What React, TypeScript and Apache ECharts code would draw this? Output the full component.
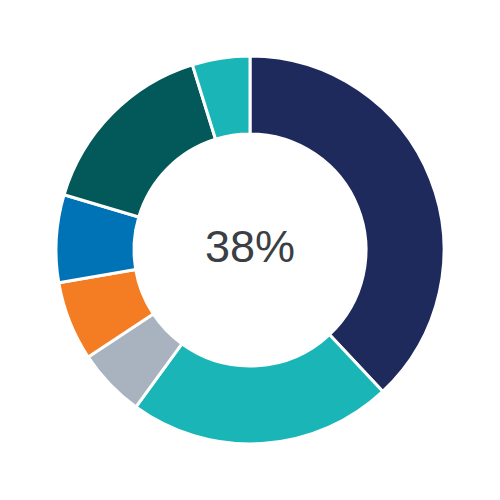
import { useEffect, useRef } from 'react';
import * as echarts from 'echarts';

const segmentNames = ['A', 'B', 'C', 'D', 'E', 'F', 'G'];
const segmentValues = [38, 22, 5.7, 6.6, 7.3, 15.6, 4.8];
const segmentColors = ['#1e2a5c', '#1ab5b6', '#a9b3bf', '#f47c22', '#0073b6', '#03585a', '#1ab5b6'];
const centerLabel = '38%';

export default function App() {
  const chartRef = useRef<HTMLDivElement | null>(null);

  useEffect(() => {
    document.body.style.margin = '0';
    if (!chartRef.current) {
      return;
    }
    const chart = echarts.init(chartRef.current, undefined, { renderer: 'svg' });
    chart.setOption({
      animation: false,
      backgroundColor: '#ffffff',
      graphic: [
        {
          type: 'text',
          x: 250,
          y: 246,
          z: 10,
          style: {
            text: centerLabel,
            fontFamily: 'Liberation Sans, Arial, sans-serif',
            fontSize: 45,
            fontWeight: 'normal',
            fill: '#3b3f45',
            textAlign: 'center',
            textVerticalAlign: 'middle',
          },
        },
      ],
      series: [
        {
          type: 'pie',
          center: [250, 250],
          radius: [116, 194],
          startAngle: 90,
          clockwise: true,
          label: { show: false },
          labelLine: { show: false },
          emphasis: { disabled: true },
          itemStyle: { borderColor: '#ffffff', borderWidth: 3 },
          data: segmentNames.map((name, i) => ({
            name,
            value: segmentValues[i],
            itemStyle: { color: segmentColors[i] },
          })),
        },
      ],
    });
    return () => {
      chart.dispose();
    };
  }, []);

  return <div ref={chartRef} style={{ width: 500, height: 500 }} />;
}
